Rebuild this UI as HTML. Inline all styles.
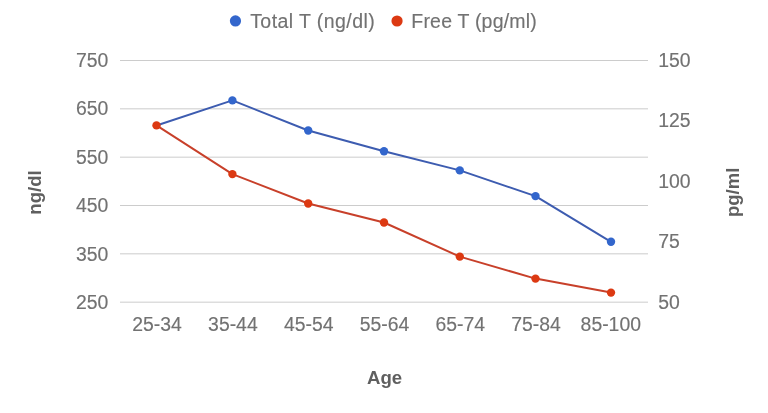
<!DOCTYPE html>
<html>
<head>
<meta charset="utf-8">
<style>
html,body{margin:0;padding:0;background:#fff;}
body{width:768px;height:413px;overflow:hidden;}
svg{display:block;}
text{font-family:"Liberation Sans",Arial,sans-serif;}
.lab{font-size:19.4px;fill:#727272;stroke:#727272;stroke-width:0.15px;}
.leg{font-size:19.5px;fill:#727272;stroke:#727272;stroke-width:0.15px;}
.ttl{font-size:18.6px;font-weight:bold;fill:#5f5f5f;}
</style>
</head>
<body>
<svg width="768" height="413" viewBox="0 0 768 413">
<rect x="0" y="0" width="768" height="413" fill="#ffffff"/>
<circle cx="235.45" cy="20.95" r="5.6" fill="#3366cc"/>
<text class="leg" x="250.2" y="27.6" textLength="124.5">Total T (ng/dl)</text>
<circle cx="397.05" cy="21.0" r="5.6" fill="#dc3912"/>
<text class="leg" x="411.3" y="27.6" textLength="125.5">Free T (pg/ml)</text>
<g fill="#cccccc">
<rect x="120" y="60" width="528" height="1"/>
<rect x="120" y="108.33" width="528" height="1"/>
<rect x="120" y="156.66" width="528" height="1"/>
<rect x="120" y="205" width="528" height="1"/>
<rect x="120" y="253.33" width="528" height="1"/>
<rect x="120" y="301.66" width="528" height="1"/>
</g>
<g class="lab" text-anchor="end">
<text x="108.4" y="66.75">750</text>
<text x="108.4" y="115.25">650</text>
<text x="108.4" y="163.65">550</text>
<text x="108.4" y="212.15">450</text>
<text x="108.4" y="260.55">350</text>
<text x="108.4" y="309.05">250</text>
</g>
<g class="lab" text-anchor="start">
<text x="658.3" y="66.75">150</text>
<text x="658.3" y="127.35">125</text>
<text x="658.3" y="187.95">100</text>
<text x="658.3" y="248.45">75</text>
<text x="658.3" y="309.05">50</text>
</g>
<g class="lab" text-anchor="middle">
<text x="157.0" y="331">25-34</text>
<text x="232.9" y="331">35-44</text>
<text x="308.7" y="331">45-54</text>
<text x="384.5" y="331">55-64</text>
<text x="460.3" y="331">65-74</text>
<text x="536.0" y="331">75-84</text>
<text x="610.8" y="331">85-100</text>
</g>
<text class="ttl" x="384.6" y="383.7" text-anchor="middle">Age</text>
<text class="ttl" transform="translate(41.3,192.5) rotate(-90)" text-anchor="middle">ng/dl</text>
<text class="ttl" transform="translate(738.5,192.3) rotate(-90)" text-anchor="middle">pg/ml</text>
<polyline fill="none" stroke="#3d5cb0" stroke-width="2" stroke-linejoin="round" points="156.5,125.5 232.4,100.4 308.2,130.5 384.0,151.3 459.8,170.4 535.5,196.1 611.0,241.8"/>
<polyline fill="none" stroke="#c8402a" stroke-width="2" stroke-linejoin="round" points="156.5,125.4 232.4,174.1 308.2,203.5 384.0,222.5 459.8,256.6 535.5,278.6 611.0,292.6"/>
<g fill="#3366cc">
<circle cx="232.4" cy="100.4" r="4.2"/>
<circle cx="308.2" cy="130.5" r="4.2"/>
<circle cx="384.0" cy="151.3" r="4.2"/>
<circle cx="459.8" cy="170.4" r="4.2"/>
<circle cx="535.5" cy="196.1" r="4.2"/>
<circle cx="611.0" cy="241.8" r="4.2"/>
</g>
<g fill="#dc3912">
<circle cx="156.5" cy="125.4" r="4.2"/>
<circle cx="232.4" cy="174.1" r="4.2"/>
<circle cx="308.2" cy="203.5" r="4.2"/>
<circle cx="384.0" cy="222.5" r="4.2"/>
<circle cx="459.8" cy="256.6" r="4.2"/>
<circle cx="535.5" cy="278.6" r="4.2"/>
<circle cx="611.0" cy="292.6" r="4.2"/>
</g>
</svg>
</body>
</html>
